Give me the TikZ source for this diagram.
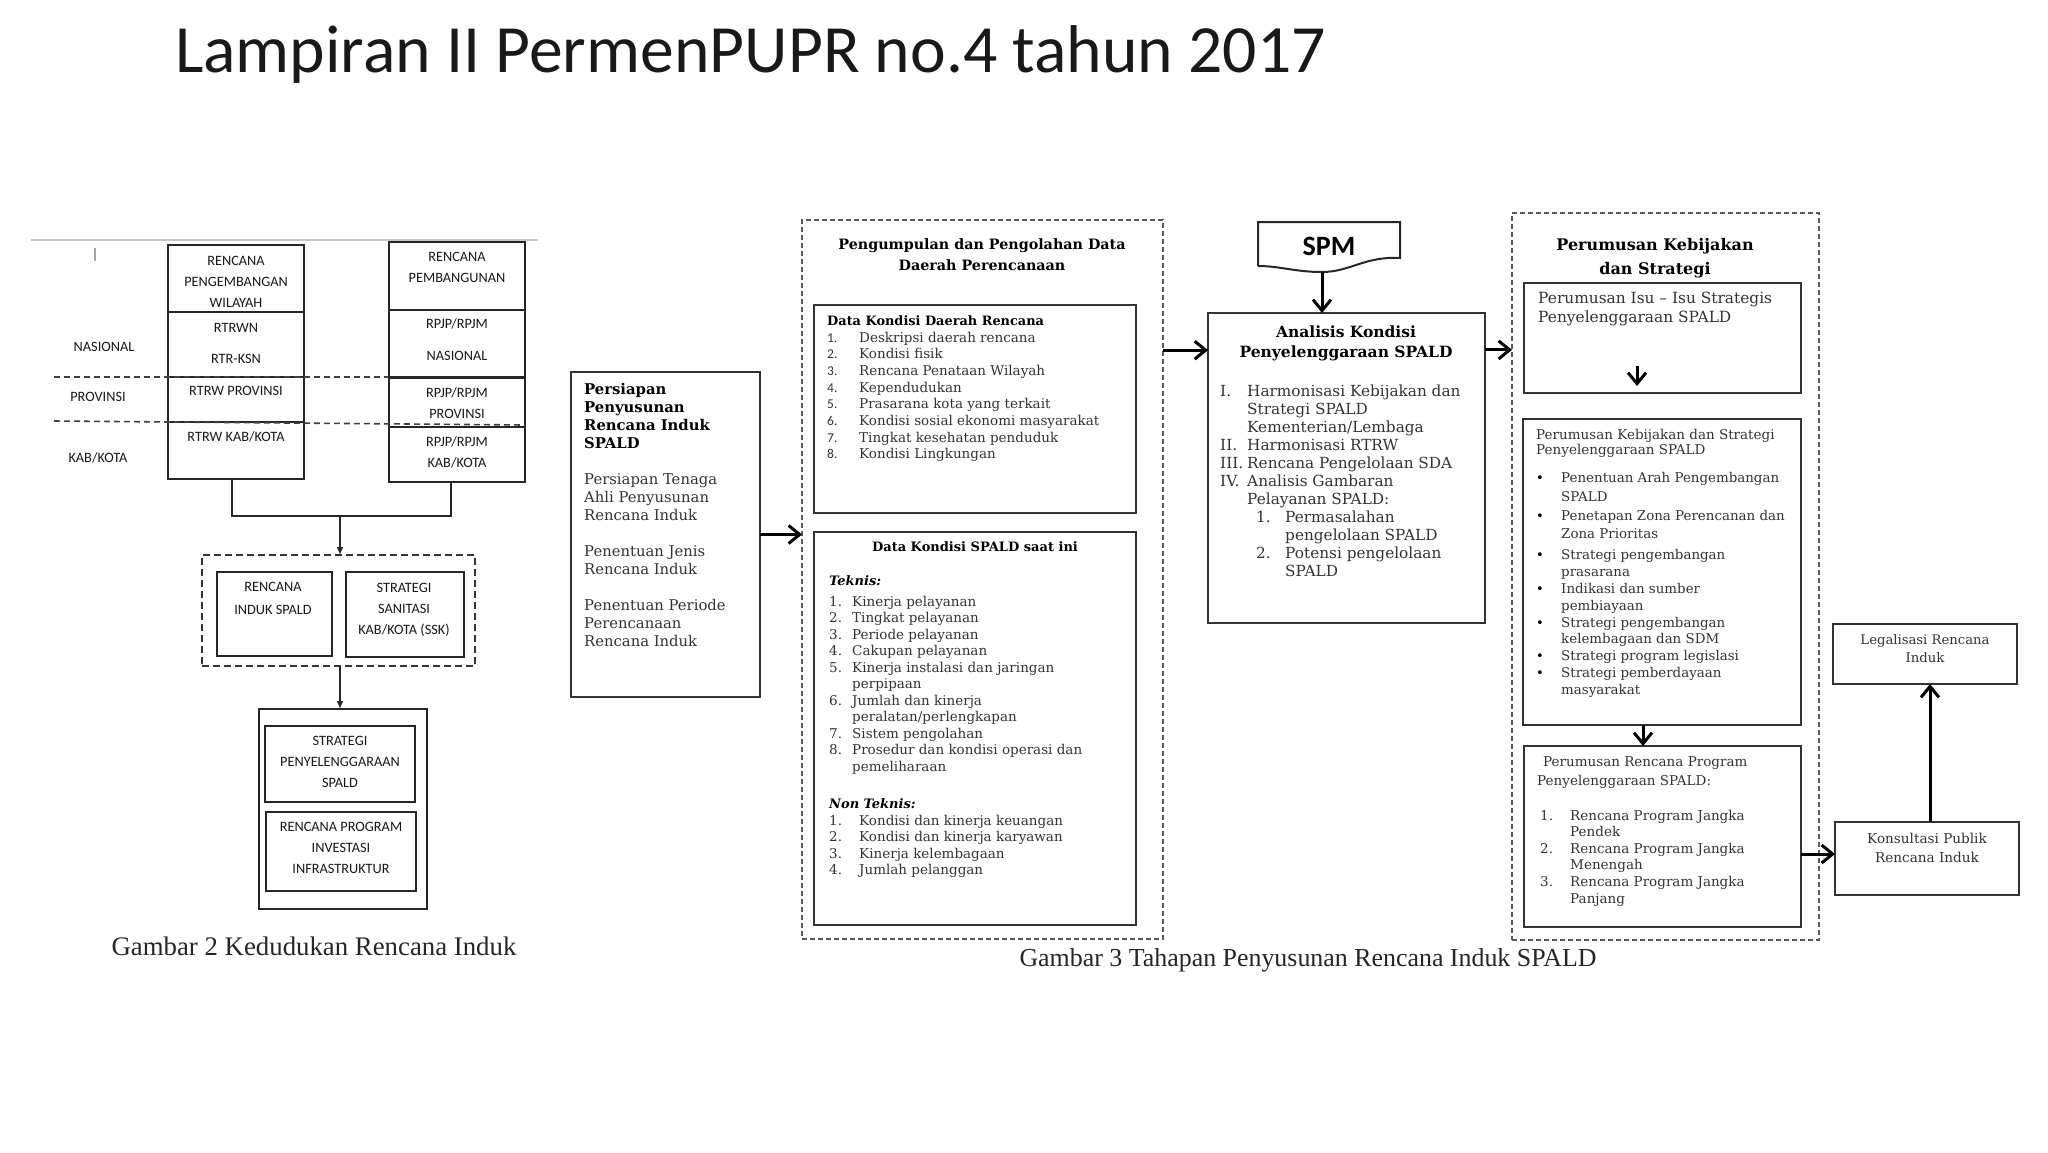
\documentclass[tikz,border=0pt]{standalone}
\usepackage{fontspec}
\setmainfont{DejaVu Serif}
\newfontfamily\calib{Carlito}
\newfontfamily\capf{Liberation Serif}
\usetikzlibrary{arrows.meta,fit,calc}
\newcommand\fsz[2]{\fontsize{#1}{#2}\selectfont}
\newcommand\ctab[1]{\begin{tabular}[t]{@{}c@{}}#1\end{tabular}}
\tikzset{
  box/.style={draw=black!80, line width=2pt, inner sep=0pt, outer sep=0pt},
  lbox/.style={draw=black!85, line width=1.5pt, inner sep=0pt, outer sep=0pt},
  dbox/.style={draw=black!65, line width=1.4pt, dash pattern=on 5pt off 3pt, inner sep=0pt, outer sep=0pt},
  ldbox/.style={draw=black!80, line width=1.6pt, dash pattern=on 7pt off 4pt, inner sep=0pt, outer sep=0pt},
  lline/.style={draw=black!85, line width=1.5pt},
  ltip/.style={-{Latex[length=8pt,width=7pt]}},
  arr/.style={draw=black, line width=3pt, -{Straight Barb[length=11pt,width=18pt]}},
  lt/.style={anchor=base, inner sep=0pt, font=\calib\fsz{14.3}{17}, text=black!90},
  tx/.style={anchor=base west, inner sep=0pt, text=black!80},
  hd/.style={inner sep=0pt, text=black},
}
\begin{document}
\begin{tikzpicture}[x=1pt,y=-1pt]
\fill[white] (0,0) rectangle (2048,1152);
\useasboundingbox (0,0) rectangle (2048,1152);

% ---------- title ----------
\node[anchor=base west, inner sep=0pt, font=\calib\fsz{67.6}{68}, text=black!90] (title) at (175,72) {Lampiran II PermenPUPR no.4 tahun 2017};

% ---------- Gambar 2 ----------
\draw[black!22, line width=1.5pt] (31,240) -- (538,240);
\draw[black!35, line width=1.2pt] (95,248) -- (95,261);

\node[lbox, fit={(168,245) (304,479)}] (rpw) {};
\draw[lline] (rpw.west |- 0,312) -- (rpw.east |- 0,312);
\draw[lline] (rpw.west |- 0,377) -- (rpw.east |- 0,377);
\draw[lline] (rpw.west |- 0,422) -- (rpw.east |- 0,422);

\node[lbox, fit={(389,242) (525,482)}] (rpb) {};
\draw[lline] (rpb.west |- 0,310) -- (rpb.east |- 0,310);
\draw[lline, line width=3pt] (rpb.west |- 0,377) -- (rpb.east |- 0,377);
\draw[lline] (rpb.west |- 0,427) -- (rpb.east |- 0,427);

\draw[black!75, line width=1.6pt, dash pattern=on 6pt off 4pt] (54,377) -- (389,377);
\draw[black!75, line width=1.6pt, dash pattern=on 6pt off 4pt] (54,421) -- (525,425);

\foreach \x/\y/\t [count=\k] in {236/265/RENCANA, 236/286/PENGEMBANGAN, 236/307/WILAYAH, 236/332/RTRWN, 236/363/RTR-KSN, 236/395/RTRW PROVINSI, 236/441/{RTRW KAB/KOTA}, 457/261/RENCANA, 457/282/PEMBANGUNAN, 457/328/{RPJP/RPJM}, 457/360/NASIONAL, 457/397/{RPJP/RPJM}, 457/418/PROVINSI, 457/446/{RPJP/RPJM}, 457/467/{KAB/KOTA}, 104/351/NASIONAL, 98/401/PROVINSI, 98/462/{KAB/KOTA}, 273/591/RENCANA, 273/614/INDUK SPALD, 404/592/STRATEGI, 404/613/SANITASI, 404/634/{KAB/KOTA (SSK)}, 340/745/STRATEGI, 340/766/PENYELENGGARAAN, 340/787/SPALD, 341/831/RENCANA PROGRAM, 341/852/INVESTASI, 341/873/INFRASTRUKTUR}
  \node[lt] (lt\k) at (\x,\y) {\t};

\node[ldbox, fit={(202,555) (475,666)}] (ind) {};
\node[lbox, fit={(217,572) (332,656)}] (ri) {};
\node[lbox, fit={(346,572) (464,657)}] (ssk) {};
\node[lbox, fit={(259,709) (427,909)}] (strat) {};
\node[lbox, fit={(265,726) (415,802)}] (sp) {};
\node[lbox, fit={(266,812) (416,891)}] (rp) {};

\coordinate (jn) at (340,516);
\draw[lline] ([xshift=-4pt]rpw.south) |- (jn) -| ([xshift=-6pt]rpb.south);
\draw[lline, ltip] (jn) -- (jn |- ind.north);
\draw[lline, ltip] (jn |- ind.south) -- (jn |- strat.north);

\node[anchor=base, inner sep=0pt, font=\capf\fsz{26.8}{27}, text=black!85] (cap2) at (314,955) {Gambar 2 Kedudukan Rencana Induk};

% ---------- Gambar 3 ----------
% Persiapan
\node[box, fit={(571,372) (760,697)}] (pers) {};
\foreach \y/\t [count=\k] in {394/Persiapan, 412/Penyusunan, 430/Rencana Induk, 448/SPALD}
  \node[tx, text=black, font=\bfseries\fsz{14.8}{18}] (pb\k) at (584,\y) {\t};
\foreach \y/\t [count=\k] in {484/Persiapan Tenaga, 502/Ahli Penyusunan, 520/Rencana Induk, 556/Penentuan Jenis, 574/Rencana Induk, 610/Penentuan Periode, 628/Perencanaan, 646/Rencana Induk}
  \node[tx, font=\fsz{14.8}{18}] (pr\k) at (584,\y) {\t};

% Pengumpulan
\node[dbox, fit={(802,220) (1163,939)}] (dash1) {};
\node[hd, anchor=base, font=\bfseries\fsz{14.3}{21}] (d1t) at (982,249) {\ctab{Pengumpulan dan Pengolahan Data\\Daerah Perencanaan}};

\node[box, fit={(814,305) (1136,513)}] (dk1) {};
\node[tx, text=black, font=\bfseries\fsz{12.9}{13}] (dk1h) at (827,325) {Data Kondisi Daerah Rencana};
\foreach \t [count=\i] in {Deskripsi daerah rencana, Kondisi fisik, Rencana Penataan Wilayah, Kependudukan, Prasarana kota yang terkait, Kondisi sosial ekonomi masyarakat, Tingkat kesehatan penduduk, Kondisi Lingkungan}{
  \pgfmathsetmacro\yy{342+(\i-1)*16.7}
  \node[tx, font=\calib\fsz{13.5}{13}] (dn\i) at (827,\yy) {\i.};
  \node[tx, font=\fsz{13.5}{13}] (dt\i) at (859,\yy) {\t};
}

\node[box, fit={(814,532) (1136,925)}] (dk2) {};
\node[hd, anchor=base, font=\bfseries\fsz{13}{13}] (dk2h) at (975,551) {Data Kondisi SPALD saat ini};
\node[tx, text=black, font=\bfseries\itshape\fsz{13}{13}] (tek) at (829,585) {Teknis:};
\foreach \y/\n/\t [count=\k] in {606/1./Kinerja pelayanan, 622.5/2./Tingkat pelayanan, 639/3./Periode pelayanan, 655.5/4./Cakupan pelayanan, 672/5./Kinerja instalasi dan jaringan, 688.5//perpipaan, 705/6./Jumlah dan kinerja, 721.5//{peralatan/perlengkapan}, 738/7./Sistem pengolahan, 754.5/8./Prosedur dan kondisi operasi dan, 771//pemeliharaan}{
  \node[tx, font=\fsz{13.5}{13}] (tn\k) at (829,\y) {\n};
  \node[tx, font=\fsz{13.5}{13}] (tt\k) at (852,\y) {\t};
}
\node[tx, text=black, font=\bfseries\itshape\fsz{13}{13}] (ntek) at (829,808) {Non Teknis:};
\foreach \y/\n/\t [count=\k] in {825/1./Kondisi dan kinerja keuangan, 841.5/2./Kondisi dan kinerja karyawan, 858/3./Kinerja kelembagaan, 874.5/4./Jumlah pelanggan}{
  \node[tx, font=\fsz{13.5}{13}] (nn\k) at (829,\y) {\n};
  \node[tx, font=\fsz{13.5}{13}] (nt\k) at (859,\y) {\t};
}

% SPM
\node[inner sep=0pt, outer sep=0pt, fit={(1258,222) (1400,266)}] (spm) {};
\draw[line width=2pt, black!85] (spm.south west) -- (spm.north west) -- (spm.north east) -- ([yshift=8pt]spm.south east) .. controls (1365,256) and (1350,272) .. (1322,272) .. controls (1295,272) and (1280,266) .. (spm.south west);
\node[anchor=base, inner sep=0pt, font=\calib\bfseries\fsz{28}{28}] (spmt) at (1329,255) {SPM};

% Analisis
\node[box, fit={(1208,313) (1485,623)}] (anal) {};
\node[hd, anchor=base, font=\bfseries\fsz{15.5}{20}] (analt) at (1346,337) {\ctab{Analisis Kondisi\\Penyelenggaraan SPALD}};
\foreach \y/\n/\t [count=\k] in {396/I./Harmonisasi Kebijakan dan, 414//Strategi SPALD, 432//{Kementerian/Lembaga}, 450/II./Harmonisasi RTRW, 468/III./Rencana Pengelolaan SDA, 486/IV./Analisis Gambaran, 504//Pelayanan SPALD:}{
  \node[tx, font=\fsz{15.3}{18}] (an\k) at (1220,\y) {\n};
  \node[tx, font=\fsz{15.3}{18}] (at\k) at (1247,\y) {\t};
}
\foreach \y/\n/\t [count=\k] in {522/1./Permasalahan, 540//pengelolaan SPALD, 558/2./Potensi pengelolaan, 576//SPALD}{
  \node[tx, font=\fsz{15.3}{18}] (sn\k) at (1256,\y) {\n};
  \node[tx, font=\fsz{15.3}{18}] (st\k) at (1285,\y) {\t};
}

% Perumusan
\node[dbox, fit={(1512,213) (1819,940)}] (dash2) {};
\node[hd, anchor=base, font=\bfseries\fsz{16}{24}] (d2t) at (1655,250) {\ctab{Perumusan Kebijakan\\dan Strategi}};

\node[box, fit={(1524,283) (1801,393)}] (isu) {};
\node[tx, font=\fsz{15.4}{19}] (isut1) at (1538,303) {Perumusan Isu – Isu Strategis};
\node[tx, font=\fsz{15.4}{19}] (isut2) at (1538,322) {Penyelenggaraan SPALD};
\coordinate (ia1) at (1637,366);
\coordinate (ia2) at (1637,386);
\draw[arr] (ia1) -- (ia2);

\node[box, fit={(1523,419) (1801,725)}] (kebj) {};
\node[tx, font=\fsz{13.5}{15}] (kh1) at (1536,439) {Perumusan Kebijakan dan Strategi};
\node[tx, font=\fsz{13.5}{15}] (kh2) at (1536,454) {Penyelenggaraan SPALD};
\foreach \y/\b/\t [count=\k] in {482/1/Penentuan Arah Pengembangan, 501/0/SPALD, 520/1/Penetapan Zona Perencanan dan, 538/0/Zona Prioritas, 559/1/Strategi pengembangan, 576/0/prasarana, 593/1/Indikasi dan sumber, 610/0/pembiayaan, 627/1/Strategi pengembangan, 643/0/kelembagaan dan SDM, 660/1/Strategi program legislasi, 677/1/Strategi pemberdayaan, 694/0/masyarakat}{
  \ifnum\b=1 \node[tx, text=black, font=\fsz{13}{13}] (kb\k) at (1536,\y) {\textbullet}; \fi
  \node[tx, font=\fsz{13.4}{15}] (kt\k) at (1561,\y) {\t};
}

\node[box, fit={(1524,746) (1801,927)}] (prog) {};
\node[tx, font=\fsz{13.5}{15}] (ph1) at (1543,766) {Perumusan Rencana Program};
\node[tx, font=\fsz{13.5}{15}] (ph2) at (1537,785) {Penyelenggaraan SPALD:};
\foreach \y/\n/\t [count=\k] in {820/1./Rencana Program Jangka, 836//Pendek, 853/2./Rencana Program Jangka, 869//Menengah, 886/3./Rencana Program Jangka, 903//Panjang}{
  \node[tx, font=\fsz{13.5}{15}] (pn\k) at (1540,\y) {\n};
  \node[tx, font=\fsz{13.5}{15}] (pt\k) at (1570,\y) {\t};
}

% Konsultasi and Legalisasi
\node[box, fit={(1835,822) (2019,895)}] (kons) {};
\node[hd, text=black!80, anchor=base, font=\fsz{13.6}{19}] (konst) at (1927,843) {\ctab{Konsultasi Publik\\Rencana Induk}};
\node[box, fit={(1833,624) (2017,684)}] (legal) {};
\node[hd, text=black!80, anchor=base, font=\fsz{13.2}{18}] (legalt) at (1925,644) {\ctab{Legalisasi Rencana\\Induk}};

% connectors
\draw[arr] (pers.east) -- (pers.east -| dash1.west);
\draw[arr] ($(dash1.north east)!0.181!(dash1.south east)$) coordinate (p1) -- (p1 -| anal.west);
\draw[arr] ($(anal.north east)!0.119!(anal.south east)$) coordinate (p2) -- (p2 -| dash2.west);
\draw[arr] ([xshift=-7pt,yshift=-6pt]spm.south) -- ([xshift=-7pt]spm.south |- anal.north);
\draw[arr] ([xshift=-19pt]kebj.south) -- ([xshift=-19pt]kebj.south |- prog.north);
\draw[arr] ([yshift=-17.5pt]prog.east) -- ([yshift=-17.5pt]prog.east -| kons.west);
\draw[arr] ([xshift=3pt]kons.north) -- ([xshift=3pt]kons.north |- legal.south);

\node[anchor=base, inner sep=0pt, font=\capf\fsz{25.9}{26}, text=black!85] (cap3) at (1308,966) {Gambar 3 Tahapan Penyusunan Rencana Induk SPALD};
\end{tikzpicture}
\end{document}
